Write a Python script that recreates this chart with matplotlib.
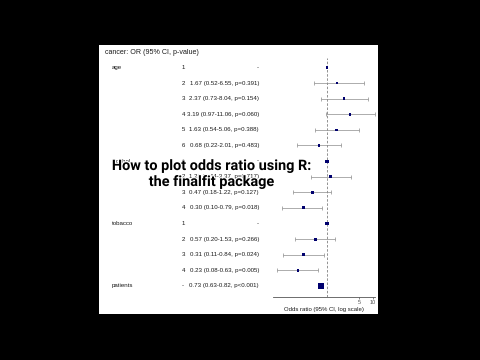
import numpy as np
import matplotlib
matplotlib.use("Agg")
import matplotlib.pyplot as plt
import matplotlib.patheffects as pe
from matplotlib.patches import Rectangle

# data
labels = ["age", "", "", "", "", "", "alcohol", "", "", "", "tobacco", "", "", "", "patients"]
levels = ["1", "2", "3", "4", "5", "6", "1", "2", "3", "4", "1", "2", "3", "4", "-"]
odds = [1, 1.67, 2.37, 3.19, 1.63, 0.68, 1, 1.21, 0.47, 0.30, 1, 0.57, 0.31, 0.23, 0.73]
lower = [np.nan, 0.52, 0.73, 0.97, 0.54, 0.22, np.nan, 0.44, 0.18, 0.10,
         np.nan, 0.20, 0.11, 0.08, 0.63]
upper = [np.nan, 6.55, 8.04, 11.06, 5.06, 2.01, np.nan, 3.37, 1.22, 0.79,
         np.nan, 1.53, 0.84, 0.63, 0.82]
p_values = ["", "0.391", "0.154", "0.060", "0.388", "0.483", "", "0.717", "0.127", "0.018",
            "", "0.266", "0.024", "0.005", "<0.001"]
counts = [15, 15, 16, 16, 15, 11, 23, 23, 21, 21, 24, 24, 20, 20, 88]

TITLE = ["How to plot odds ratio using R:", "the finalfit package"]

W, H = 480, 360
ROW0, ROW_STEP = 67.5, 15.6

fig = plt.figure(figsize=(4.8, 3.6), dpi=100, facecolor="black")

# full-figure axes in pixel coordinates for the table part
bg = fig.add_axes([0, 0, 1, 1])
bg.set_xlim(0, W)
bg.set_ylim(H, 0)
bg.set_axis_off()
bg.add_patch(Rectangle((99, 45), 279, 269, facecolor="white", edgecolor="none"))

table_font = dict(family="Liberation Sans", fontsize=4.45, color="#1a1a1a", va="center")
bg.text(105, 53, "cancer: OR (95% CI, p-value)", family="Liberation Sans",
        fontsize=5.1, color="#1a1a1a", va="center", ha="left")

for i, (lab, lev) in enumerate(zip(labels, levels)):
    y = ROW0 + i * ROW_STEP
    if lab:
        bg.text(112, y, lab, ha="left", **table_font)
    bg.text(182, y, lev, ha="left", **table_font)
    if np.isnan(lower[i]):
        txt = "-"
    else:
        p = p_values[i]
        ptxt = "p" + p if p.startswith("<") else "p=" + p
        txt = f"{odds[i]:.2f} ({lower[i]:.2f}-{upper[i]:.2f}, {ptxt})"
    bg.text(259, y, txt, ha="right", **table_font)

# forest plot axes
x_left, x_right = 273, 374.6
y_top, y_bottom = 58, 297
ax = fig.add_axes([x_left / W, 1 - y_bottom / H, (x_right - x_left) / W, (y_bottom - y_top) / H])
ax.patch.set_alpha(0)
ax.set_xscale("log")
ax.set_xlim(0.065, 11.1)
ax.set_ylim(14 + (y_bottom - (ROW0 + 14 * ROW_STEP)) / ROW_STEP, -(ROW0 - y_top) / ROW_STEP)

rows = np.arange(len(odds))
ax.axvline(1, color="#808080", linestyle=(0, (3, 2)), linewidth=0.6, zorder=1)
lo = np.array(lower)
hi = np.array(upper)
od = np.array(odds)
ok = ~np.isnan(lo)
ax.errorbar(od[ok], rows[ok], xerr=[od[ok] - lo[ok], hi[ok] - od[ok]], fmt="none",
            ecolor="#8c8c8c", elinewidth=0.5, capsize=1.5, capthick=0.5, zorder=2,
            clip_on=False)
ax.scatter(od, rows, s=np.array(counts) * 0.21, marker="s", color="#00006e",
           linewidths=0, zorder=3, clip_on=False)

for side in ["top", "right", "left"]:
    ax.spines[side].set_visible(False)
ax.spines["bottom"].set_color("#555555")
ax.spines["bottom"].set_linewidth(0.6)
ax.set_yticks([])
ax.set_xticks([5, 10])
ax.set_xticklabels(["5", "10"])
ax.xaxis.set_minor_locator(matplotlib.ticker.NullLocator())
ax.tick_params(axis="x", length=1.5, width=0.5, color="#555555", labelsize=4,
               labelcolor="#555555", pad=1)
for t in ax.get_xticklabels():
    t.set_family("Liberation Sans")
ax.set_xlabel("Odds ratio (95% CI, log scale)", family="Liberation Sans", fontsize=4.3,
              color="#1a1a1a", labelpad=1.2)

# overlaid video title
stroke = [pe.withStroke(linewidth=1.6, foreground="white")]
bg.text(211, 166, TITLE[0], ha="center", va="center", family="Roboto", fontweight="bold",
        fontsize=10.4, color="black", path_effects=stroke, zorder=10)
bg.text(211, 182, TITLE[1], ha="center", va="center", family="Roboto", fontweight="bold",
        fontsize=10.4, color="black", path_effects=stroke, zorder=10)
bg.set_zorder(0)
ax.set_zorder(1)

fig.savefig("out.png", dpi=100, facecolor="black")
